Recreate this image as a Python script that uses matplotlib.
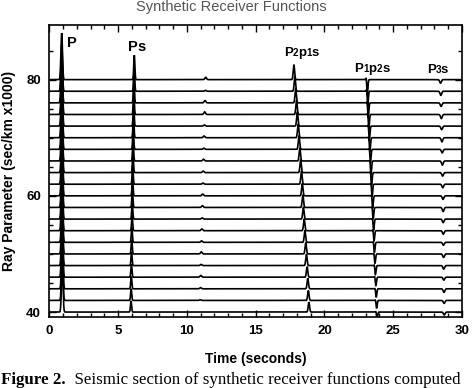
import numpy as np
import matplotlib
matplotlib.use("Agg")
import matplotlib.pyplot as plt
from matplotlib.ticker import MultipleLocator
from matplotlib.transforms import IdentityTransform

# ---------------- data ----------------
ray_param = [40, 42, 44, 46, 48, 50, 52, 54, 56, 58, 60,
             62, 64, 66, 68, 70, 72, 74, 76, 78, 80]

p_time = [0.94, 0.94, 0.94, 0.93, 0.93, 0.93, 0.93, 0.92, 0.92, 0.92, 0.92,
          0.92, 0.92, 0.91, 0.91, 0.91, 0.91, 0.91, 0.90, 0.90, 0.90]
p_amp = [8.6, 8.6, 8.5, 8.5, 8.5, 8.4, 8.4, 8.4, 8.3, 8.3, 8.3,
         8.3, 8.2, 8.2, 8.2, 8.2, 8.1, 8.1, 8.1, 8.0, 8.0]

ps_time = [5.94, 5.95, 5.96, 5.97, 5.98, 5.99, 6.00, 6.02, 6.03, 6.04, 6.05,
           6.06, 6.08, 6.09, 6.10, 6.12, 6.13, 6.14, 6.15, 6.17, 6.18]
ps_amp = [1.9, 2.0, 2.1, 2.2, 2.3, 2.4, 2.5, 2.6, 2.7, 2.9, 3.0,
          3.1, 3.2, 3.3, 3.5, 3.6, 3.7, 3.8, 3.9, 4.1, 4.2]

x11_time = [10.95, 10.97, 10.99, 11.01, 11.03, 11.05, 11.07, 11.09, 11.11, 11.13, 11.15,
            11.17, 11.19, 11.21, 11.23, 11.25, 11.27, 11.29, 11.32, 11.35, 11.37]
x11_amp = [0.0, 0.1, 0.2, 0.3, 0.2, 0.35, 0.25, 0.3, 0.2, 0.3, 0.3,
           0.2, 0.25, 0.3, 0.2, 0.3, 0.2, 0.45, 0.4, 0.15, 0.4]

p2p1s_time = [18.87, 18.83, 18.79, 18.74, 18.69, 18.64, 18.58, 18.53, 18.47, 18.43, 18.39,
              18.33, 18.27, 18.21, 18.15, 18.09, 18.03, 17.97, 17.91, 17.85, 17.78]
p2p1s_amp = [1.7, 1.7, 1.8, 1.8, 1.9, 1.9, 2.0, 2.0, 2.0, 2.1, 2.1,
             2.2, 2.2, 2.2, 2.3, 2.3, 2.4, 2.4, 2.4, 2.5, 2.5]

p1p2s_time = [23.82, 23.79, 23.76, 23.73, 23.70, 23.67, 23.63, 23.60, 23.57, 23.54, 23.50,
              23.46, 23.42, 23.38, 23.34, 23.30, 23.26, 23.22, 23.18, 23.14, 23.11]
p1p2s_amp = [-1.3, -1.4, -1.5, -1.5, -1.6, -1.7, -1.8, -1.9, -2.0, -2.1, -2.2,
             -2.2, -2.3, -2.4, -2.4, -2.5, -2.6, -2.6, -2.7, -2.7, -2.8]
p1p2s_pre_time = [23.76, 23.73, 23.70, 23.67, 23.64, 23.61, 23.57, 23.54, 23.51, 23.48, 23.44,
                  23.40, 23.36, 23.32, 23.28, 23.24, 23.20, 23.16, 23.12, 23.08, 23.05]
p1p2s_pre_amp = [0.4, 0.4, 0.4, 0.5, 0.5, 0.5, 0.5, 0.6, 0.6, 0.6, 0.6,
                 0.7, 0.7, 0.7, 0.8, 0.8, 0.8, 0.9, 0.9, 1.0, 1.1]

p3s_time = [28.71, 28.70, 28.69, 28.68, 28.67, 28.66, 28.65, 28.64, 28.63, 28.63, 28.62,
            28.60, 28.59, 28.57, 28.56, 28.54, 28.52, 28.50, 28.48, 28.46, 28.44]
p3s_amp = [-0.5, -0.5, -0.6, -0.5, -0.6, -0.6, -0.5, -0.6, -0.6, -0.7, -0.6,
           -0.6, -0.6, -0.7, -0.6, -0.7, -0.6, -0.7, -0.6, -0.7, -0.6]

phase_labels = ["P", "Ps", "P2p1s", "P1p2s", "P3s"]
x_ticks = [0, 5, 10, 15, 20, 25, 30]
y_ticks = [40, 60, 80]

# ---------------- figure ----------------
plt.rcParams['font.family'] = ['Liberation Sans', 'DejaVu Sans']
fig = plt.figure(figsize=(4.74, 3.88), dpi=100)
ax = fig.add_axes([49.3 / 474, 1 - 316.7 / 388, (462 - 49.3) / 474, (316.7 - 25) / 388])

t = np.linspace(0, 30, 6001)
phases = [
    (p_time, p_amp, 0.055),
    (ps_time, ps_amp, 0.04),
    (x11_time, x11_amp, 0.06),
    (p2p1s_time, p2p1s_amp, 0.05),
    (p1p2s_pre_time, p1p2s_pre_amp, 0.03),
    (p1p2s_time, p1p2s_amp, 0.045),
    (p3s_time, p3s_amp, 0.06),
]
for i, rp in enumerate(ray_param):
    trace = np.full_like(t, float(rp))
    for times, amps, sig in phases:
        trace += amps[i] * np.exp(-0.5 * ((t - times[i]) / sig) ** 2)
    ax.plot(t, trace, color='black', lw=1.2, solid_joinstyle='miter')

ax.set_xlim(0, 30)
ax.set_ylim(39.2, 89.4)
ax.set_xticks(x_ticks)
ax.set_yticks(y_ticks)
ax.xaxis.set_minor_locator(MultipleLocator(1))
ax.yaxis.set_minor_locator(MultipleLocator(5))
ax.tick_params(which='both', direction='in', top=True, right=True, width=1.0, color='black')
ax.tick_params(which='major', length=5, labelsize=9.5, pad=6)
ax.tick_params(which='minor', length=3)
for lab in ax.get_xticklabels() + ax.get_yticklabels():
    lab.set_fontweight('bold')
for s in ax.spines.values():
    s.set_linewidth(1.2)

ax.set_xlabel("Time (seconds)", fontsize=10, fontweight='bold', labelpad=11)
ax.set_ylabel("Ray Parameter (sec/km x1000)", fontsize=10, fontweight='bold', labelpad=7)

renderer = fig.canvas.get_renderer()


def seq_text(x, y, pieces, transform, color='black', family=None):
    """Write text pieces one after another on a common baseline."""
    xd, yd = transform.transform((x, y))
    for s, size, weight in pieces:
        kw = dict(fontsize=size, fontweight=weight, va='baseline', ha='left', color=color)
        if family:
            kw['family'] = family
        txt = fig.text(0, 0, s, **kw)
        txt.set_transform(IdentityTransform())
        txt.set_position((xd, yd))
        bb = txt.get_window_extent(renderer)
        xd = bb.x1


def phase_label(x, y, text, big, small):
    pieces = []
    for ch in text:
        pieces.append((ch, small if ch.isdigit() else big, 'bold'))
    seq_text(x, y, pieces, ax.transData)


phase_label(1.29, 85.6, phase_labels[0], 10.5, 7)
phase_label(5.73, 85.0, phase_labels[1], 10.5, 7)
phase_label(17.06, 84.1, phase_labels[2], 9.5, 7)
phase_label(22.17, 81.3, phase_labels[3], 9.5, 7)
phase_label(27.43, 81.1, phase_labels[4], 9.5, 7)

# title at top and caption at bottom (both partly outside the plot in the source scan)
fig.text(0.488, 1 - 11 / 388, "Synthetic Receiver Functions", ha='center', va='baseline',
         fontsize=10.5, color='#555555')
seq_text(1, 3.5, [("Figure 2.", 12.2, 'bold'),
                  ("  Seismic section of synthetic receiver functions computed", 12.2, 'normal')],
         IdentityTransform(), family=['Liberation Serif', 'DejaVu Serif'])

fig.savefig("out.png", dpi=100)
